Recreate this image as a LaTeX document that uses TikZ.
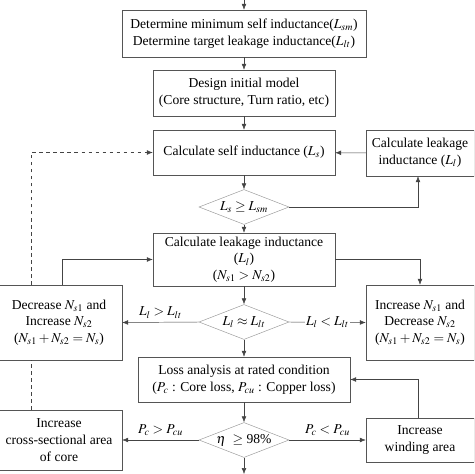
\documentclass[tikz,border=0pt]{standalone}
\usepackage{mathptmx}
\usepackage{fontspec}
\setmainfont{Liberation Serif}
\usepackage{xcolor}
\usetikzlibrary{shapes.geometric, arrows.meta, positioning, calc}
\definecolor{edgegray}{HTML}{555555}
\definecolor{decgray}{HTML}{999999}
\definecolor{arrowgray}{HTML}{444444}

\begin{document}
\begin{tikzpicture}[
  x=0.03cm, y=-0.03cm,
  font=\fontsize{11.6}{14.2}\selectfont,
  box/.style={rectangle, draw=edgegray, fill=white, align=center,
              minimum width=5.46cm, minimum height=1.38cm, inner sep=2pt},
  sidebox/.style={box, minimum width=3.24cm},
  decide/.style={diamond, draw=decgray, fill=white, aspect=2.6, inner sep=0pt,
                 minimum width=2.7cm, minimum height=1.05cm},
  arr/.style={-{Latex[length=5pt,width=4pt]}, arrowgray},
  lbl/.style={text=black, font=\fontsize{11.6}{13}\selectfont}
]
  \useasboundingbox (0,0) rectangle (474,474);
  \clip (0,0) rectangle (474,474);

  % main column
  \coordinate (start) at (244,0);
  \node[box, minimum width=7.32cm, minimum height=1.41cm] (minL) at (244,33.5)
    {Determine minimum self inductance($L_{sm}$)\\Determine target leakage inductance($L_{lt}$)};
  \node[box] (model) at (244,93)
    {Design initial model\\(Core structure, Turn ratio, etc)};
  \node[box, minimum height=1.35cm] (selfL) at (244,152.5)
    {Calculate self inductance ($L_s$)};
  \node[decide] (chkself) at (244,207) {$L_s \geq L_{sm}$};
  \node[box, minimum height=1.59cm] (leakL) at (244,259.5)
    {Calculate leakage inductance\\($L_l$)\\($N_{s1} > N_{s2}$)};
  \node[decide] (chkleak) at (244,322) {$L_l \approx L_{lt}$};
  \node[box, minimum width=6.36cm, minimum height=1.35cm] (loss) at (244,379.5)
    {Loss analysis at rated condition\\($P_c$ : Core loss, $P_{cu}$ : Copper loss)};
  \node[decide] (chkeff) at (244,440) {$\eta$\ \ $\geq$ 98\%};
  \coordinate (finish) at (244,474);

  % side boxes
  \node[sidebox, minimum height=1.38cm] (leakR) at (420,153)
    {Calculate leakage\\inductance ($L_l$)};
  \node[sidebox, minimum width=3.78cm, minimum height=2.25cm] (decN) at (59,322.5)
    {Decrease $N_{s1}$ and\\Increase $N_{s2}$\\($N_{s1} + N_{s2} = N_s$)};
  \node[sidebox, minimum height=2.25cm] (incN) at (420,322.5)
    {Increase $N_{s1}$ and\\Decrease $N_{s2}$\\($N_{s1} + N_{s2} = N_s$)};
  \node[sidebox, minimum width=3.78cm, minimum height=1.8cm] (core) at (59,440)
    {Increase\\cross-sectional area\\of core};
  \node[sidebox, minimum height=1.32cm] (wind) at (420,440)
    {Increase\\winding area};

  % main flow
  \draw[arr] (start) -- (minL);
  \draw[arr] (minL) -- (model);
  \draw[arr] (model) -- (selfL);
  \draw[arr] (selfL) -- (chkself);
  \draw[arr] (chkself) -- (leakL);
  \draw[arr] (leakL) -- (chkleak);
  \draw[arr] (chkleak) -- (loss);
  \draw[arr] (loss) -- (chkeff);
  \draw[arr] (chkeff) -- (finish);

  % loops
  \draw[arr] (chkself.east) -| ($(leakR.south)+(-2,0)$);
  \draw[arr] (leakR) -- (selfL);
  \draw[arr] ($(decN.north)+(3,0)$) |- (leakL.west);
  \draw[arr] (leakL.east) -| (incN.north);
  \draw[arr] (chkleak.west) -- node[lbl, above] {$L_l > L_{lt}$} (decN.east);
  \draw[arr] (chkleak.east) -- node[lbl, fill=white, inner sep=1pt] {$L_l < L_{lt}$} (incN.west);
  \draw[arr] (chkeff.west) -- node[lbl, above] {$P_c > P_{cu}$} (core.east);
  \draw[arr] (chkeff.east) -- node[lbl, above] {$P_c < P_{cu}$} (wind.west);
  \draw[arr] ($(wind.north)+(-2,0)$) |- (loss.east);
  \draw[arrowgray, dashed] ($(core.north)+(-28,0)$) -- ($(decN.south)+(-28,0)$);
  \draw[arr, dashed] ($(decN.north)+(-28,0)$) |- (selfL.west);
\end{tikzpicture}
\end{document}
